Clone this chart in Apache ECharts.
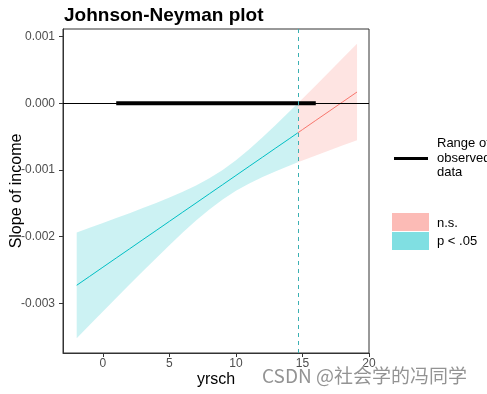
<!DOCTYPE html>
<html><head><meta charset="utf-8">
<script src="https://cdn.jsdelivr.net/npm/echarts@6/dist/echarts.min.js"></script>
<style>html,body{margin:0;padding:0;background:#fff}#c{width:487px;height:394px}</style>
</head><body><div id="c"></div>
<script>
// ---- data ----
const xTicks = [0, 5, 10, 15, 20];
const yTicks = [-0.003, -0.002, -0.001, 0, 0.001];
const jnPoint = 14.65;
const observedRange = [1, 16];

const sigX     = [-1.97, -1, 0, 1, 2, 3, 4, 5, 6, 7, 8, 9, 10, 11, 12, 13, 14, 14.65];
const sigSlope = [-0.002729, -0.002596, -0.002458, -0.002320, -0.002183, -0.002045, -0.001908, -0.001770, -0.001632, -0.001495, -0.001357, -0.001220, -0.001082, -0.000944, -0.000807, -0.000669, -0.000532, -0.000442];
const sigLower = [-0.003522, -0.003325, -0.003122, -0.002919, -0.002719, -0.002519, -0.002322, -0.002128, -0.001939, -0.001759, -0.001591, -0.001441, -0.001312, -0.001201, -0.001106, -0.001018, -0.000936, -0.000884];
const sigUpper = [-0.001936, -0.001867, -0.001794, -0.001721, -0.001647, -0.001571, -0.001494, -0.001412, -0.001325, -0.001231, -0.001123, -0.000999, -0.000852, -0.000687, -0.000508, -0.000320, -0.000128, 0.000000];

const nsX     = [14.65, 15, 16, 17, 18, 19.1];
const nsSlope = [-0.000442, -0.000394, -0.000256, -0.000119, 0.000019, 0.000170];
const nsLower = [-0.000884, -0.000857, -0.000781, -0.000707, -0.000633, -0.000554];
const nsUpper = [0.000000, 0.000069, 0.000269, 0.000469, 0.000671, 0.000894];

// ---- chart ----
const TEAL = '#00BFC4', RED = '#F8766D';
const FONT = 'Liberation Sans, Arial, sans-serif';
const chart = echarts.init(document.getElementById('c'), null, {renderer: 'canvas'});

function bandSeries(xs, lo, hi, fill) {
  return {
    type: 'custom', clip: true, silent: true, z: 1,
    data: xs.map((x, i) => [x, lo[i], hi[i]]),
    encode: {x: 0, y: [1, 2]},
    renderItem: function (params, api) {
      if (params.dataIndex !== 0) return {type: 'group', children: []};
      const pts = [];
      for (let i = 0; i < xs.length; i++) pts.push(api.coord([xs[i], hi[i]]));
      for (let i = xs.length - 1; i >= 0; i--) pts.push(api.coord([xs[i], lo[i]]));
      return {type: 'polygon', shape: {points: pts}, style: {fill: fill, stroke: null}};
    }
  };
}

const option = {
  animation: false,
  backgroundColor: '#ffffff',
  textStyle: {fontFamily: FONT},
  title: {
    text: 'Johnson-Neyman plot', left: 59, top: 1,
    textStyle: {fontSize: 19, fontWeight: 'bold', color: '#000', fontFamily: FONT}
  },
  grid: {left: 63, top: 29, width: 306, height: 324, show: true, borderColor: '#333', borderWidth: 1, backgroundColor: 'transparent'},
  xAxis: {
    type: 'value', min: -3, max: 20,
    axisLine: {show: true, onZero: false, lineStyle: {color: '#333', width: 1}},
    axisTick: {show: true, length: 4, customValues: xTicks, lineStyle: {color: '#333'}},
    axisLabel: {customValues: xTicks, color: '#4D4D4D', fontSize: 12, margin: 5},
    splitLine: {show: false}
  },
  yAxis: {
    type: 'value', min: -0.003745, max: 0.001115,
    axisLine: {show: true, onZero: false, lineStyle: {color: '#333', width: 1}},
    axisTick: {show: true, length: 4, customValues: yTicks, lineStyle: {color: '#333'}},
    axisLabel: {customValues: yTicks, color: '#4D4D4D', fontSize: 12, margin: 8,
      formatter: v => (Math.abs(v) < 1e-12 ? 0 : v).toFixed(3)},
    splitLine: {show: false}
  },
  series: [
    bandSeries(sigX, sigLower, sigUpper, 'rgba(0,191,196,0.2)'),
    bandSeries(nsX, nsLower, nsUpper, 'rgba(248,118,109,0.2)'),
    {
      type: 'line', z: 3, symbol: 'none', silent: true,
      data: observedRange.map(x => [x, 0]),
      lineStyle: {color: '#000', width: 4}
    },
    {
      type: 'line', z: 4, symbol: 'none', silent: true,
      data: sigX.map((x, i) => [x, sigSlope[i]]),
      lineStyle: {color: TEAL, width: 1},
      markLine: {
        silent: true, symbol: 'none', label: {show: false},
        data: [
          {yAxis: 0, lineStyle: {color: '#000', width: 1, type: 'solid'}},
          {xAxis: jnPoint, lineStyle: {color: '#3BB0B3', width: 1, type: [4, 4]}}
        ]
      }
    },
    {
      type: 'line', z: 4, symbol: 'none', silent: true,
      data: nsX.map((x, i) => [x, nsSlope[i]]),
      lineStyle: {color: RED, width: 1}
    }
  ],
  graphic: [
    {type: 'text', x: 17, y: 191, rotation: Math.PI / 2,
      style: {text: 'Slope of income', fontSize: 16, fill: '#000', align: 'center', verticalAlign: 'middle', fontFamily: FONT}},
    {type: 'text', x: 216, y: 380,
      style: {text: 'yrsch', fontSize: 16, fill: '#000', align: 'center', verticalAlign: 'middle', fontFamily: FONT}},
    {type: 'rect', shape: {x: 394, y: 157, width: 34, height: 3}, style: {fill: '#000'}},
    {type: 'text', x: 437, y: 158,
      style: {text: 'Range of\nobserved\ndata', fontSize: 13, lineHeight: 14.4, fill: '#000', align: 'left', verticalAlign: 'middle', fontFamily: FONT}},
    {type: 'rect', shape: {x: 392, y: 213, width: 37, height: 18}, style: {fill: '#FCBBB6'}},
    {type: 'rect', shape: {x: 392, y: 232, width: 37, height: 18}, style: {fill: '#80DFE2'}},
    {type: 'text', x: 437, y: 223,
      style: {text: 'n.s.', fontSize: 13, fill: '#000', align: 'left', verticalAlign: 'middle', fontFamily: FONT}},
    {type: 'text', x: 437, y: 241.5,
      style: {text: 'p < .05', fontSize: 13, fill: '#000', align: 'left', verticalAlign: 'middle', fontFamily: FONT}},
    {type: 'text', x: 262, y: 376, z: 100,
      style: {text: 'CSDN @社会学的冯同学', fontSize: 19, fill: 'rgba(120,120,120,0.8)', stroke: 'rgba(255,255,255,0.6)', lineWidth: 1,
        align: 'left', verticalAlign: 'middle', fontFamily: 'Noto Sans CJK SC, sans-serif'}}
  ]
};
chart.setOption(option);
</script>
</body></html>
